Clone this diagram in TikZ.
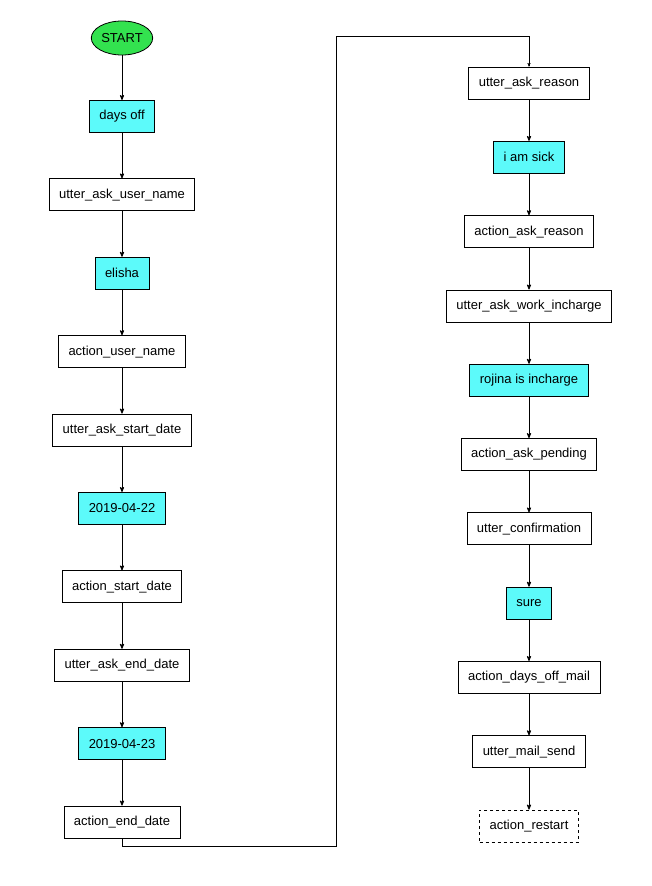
\documentclass[tikz,border=0pt]{standalone}
\usepackage{fontspec}
\setmainfont{Liberation Sans}
\usetikzlibrary{arrows,shapes.geometric}
\definecolor{intentcyan}{HTML}{5CFAFA}
\definecolor{startgreen}{HTML}{33E24F}
\begin{document}
\begin{tikzpicture}[x=1pt,y=1pt,->,>=stealth',thick,
  every node/.style={font=\fontsize{13}{15}\selectfont},
  action node/.style={rectangle,draw,fill=white,minimum height=32pt,inner xsep=10pt},
  intent node/.style={rectangle,draw,fill=intentcyan,minimum height=32pt,inner xsep=10pt},
  start node/.style={ellipse,draw,fill=startgreen,minimum width=60pt,minimum height=34pt,inner sep=1pt}]

  \useasboundingbox (0,0) rectangle (652,-886);

  % left column
  \begin{scope}[node distance=78.4pt]
  \node[start node] (start) at (122,-38) {START};
  \node[intent node] (daysoff) [below of=start] {days off};
  \node[action node] (askname) [below of=daysoff] {utter\_ask\_user\_name};
  \node[intent node] (elisha) [below of=askname] {elisha};
  \node[action node] (username) [below of=elisha] {action\_user\_name};
  \node[action node] (askstart) [below of=username] {utter\_ask\_start\_date};
  \node[intent node] (startval) [below of=askstart] {2019-04-22};
  \node[action node] (startdate) [below of=startval] {action\_start\_date};
  \node[action node] (askend) [below of=startdate] {utter\_ask\_end\_date};
  \node[intent node] (endval) [below of=askend] {2019-04-23};
  \node[action node] (enddate) [below of=endval] {action\_end\_date};
  \end{scope}

  % right column
  \begin{scope}[node distance=74.3pt]
  \node[action node] (askreason) at (529,-83) {utter\_ask\_reason};
  \node[intent node] (sick) [below of=askreason] {i am sick};
  \node[action node] (reason) [below of=sick] {action\_ask\_reason};
  \node[action node] (askincharge) [below of=reason] {utter\_ask\_work\_incharge};
  \node[intent node] (rojina) [below of=askincharge] {rojina is incharge};
  \node[action node] (pending) [below of=rojina] {action\_ask\_pending};
  \node[action node] (confirm) [below of=pending] {utter\_confirmation};
  \node[intent node] (sure) [below of=confirm] {sure};
  \node[action node] (mail) [below of=sure] {action\_days\_off\_mail};
  \node[action node] (mailsend) [below of=mail] {utter\_mail\_send};
  \node[action node,dashed] (restart) [below of=mailsend] {action\_restart};
  \end{scope}

  \draw (start) -- (daysoff);
  \draw (daysoff) -- (askname);
  \draw (askname) -- (elisha);
  \draw (elisha) -- (username);
  \draw (username) -- (askstart);
  \draw (askstart) -- (startval);
  \draw (startval) -- (startdate);
  \draw (startdate) -- (askend);
  \draw (askend) -- (endval);
  \draw (endval) -- (enddate);

  \draw[thin] (enddate.south) |- (336,-846) |- (529,-36) -- (askreason.north);

  \draw (askreason) -- (sick);
  \draw (sick) -- (reason);
  \draw (reason) -- (askincharge);
  \draw (askincharge) -- (rojina);
  \draw (rojina) -- (pending);
  \draw (pending) -- (confirm);
  \draw (confirm) -- (sure);
  \draw (sure) -- (mail);
  \draw (mail) -- (mailsend);
  \draw (mailsend) -- (restart);
\end{tikzpicture}
\end{document}
